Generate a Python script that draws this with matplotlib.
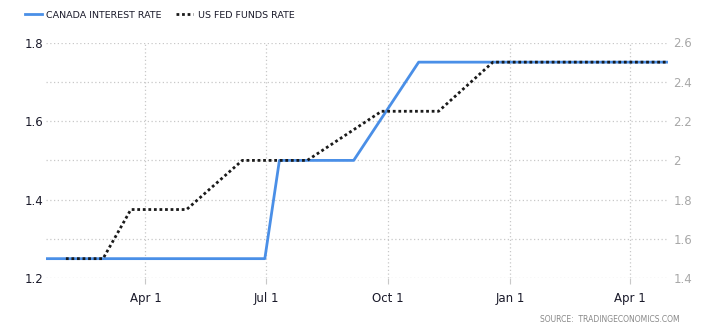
import numpy as np
import pandas as pd
import matplotlib.pyplot as plt

# Bank of Canada overnight rate (left axis)
ca_dates = pd.to_datetime(['2018-01-17', '2018-06-30', '2018-07-11', '2018-09-05',
                           '2018-10-24', '2019-04-30'])
ca_rate = [1.25, 1.25, 1.50, 1.50, 1.75, 1.75]

# US fed funds upper bound (right axis)
us_dates = pd.to_datetime(['2018-01-31', '2018-02-28', '2018-03-21', '2018-05-02',
                           '2018-06-13', '2018-08-01', '2018-09-26', '2018-11-08',
                           '2018-12-19', '2019-04-30'])
us_rate = [1.50, 1.50, 1.75, 1.75, 2.00, 2.00, 2.25, 2.25, 2.50, 2.50]

x_ticks = pd.to_datetime(['2018-04-01', '2018-07-01', '2018-10-01', '2019-01-01', '2019-04-01'])
x_labels = ['Apr 1', 'Jul 1', 'Oct 1', 'Jan 1', 'Apr 1']
left_ticks = [1.2, 1.3, 1.4, 1.5, 1.6, 1.7, 1.8]
left_labels = ['1.2', '', '1.4', '', '1.6', '', '1.8']
right_ticks = [1.4, 1.6, 1.8, 2.0, 2.2, 2.4, 2.6]
right_labels = ['1.4', '1.6', '1.8', '2', '2.2', '2.4', '2.6']

fig = plt.figure(figsize=(7.06, 3.28), dpi=100)
ax = fig.add_axes([46 / 706, 1 - 278.3 / 328, (668 - 46) / 706, (278.3 - 42.5) / 328])
ax2 = ax.twinx()

l1, = ax.plot(ca_dates, ca_rate, color='#4a8fe7', lw=2, label='CANADA INTEREST RATE', zorder=3)
l2, = ax2.plot(us_dates, us_rate, color='#1a1a1a', lw=2, ls=(0, (1, 1)),
               label='US FED FUNDS RATE', zorder=4)

ax.set_xlim(pd.Timestamp('2018-01-16'), pd.Timestamp('2019-04-30'))
ax.set_ylim(1.2, 1.8)
ax2.set_ylim(1.4, 2.6)

ax.set_xticks(x_ticks)
ax.set_xticklabels(x_labels)
ax.set_yticks(left_ticks)
ax.set_yticklabels(left_labels)
ax2.set_yticks(right_ticks)
ax2.set_yticklabels(right_labels)

ax.grid(True, color='#c8c8c8', ls=(0, (1, 2)), lw=0.9)
ax.tick_params(axis='x', length=4, color='#c8c8c8', labelsize=8.5, labelcolor='#1a1a2a', pad=6)
ax.tick_params(axis='y', length=0, labelsize=8.5, labelcolor='#1a1a2a', pad=2)
ax2.tick_params(axis='y', length=0, labelsize=8.5, labelcolor='#a8a8a8', pad=4)
for a in (ax, ax2):
    for s in a.spines.values():
        s.set_visible(False)

fig.legend(handles=[l1, l2], loc='upper left', bbox_to_anchor=(0.023, 1.0 - 2 / 328), ncol=2,
           frameon=False, fontsize=6.8, handlelength=1.8, handletextpad=0.5,
           columnspacing=1.5, labelcolor='#1a1a2a')

fig.text(680 / 706, 1 - 319 / 328, 'SOURCE:  TRADINGECONOMICS.COM', ha='right', va='center',
         fontsize=5.5, color='#888888')

fig.savefig('out.png', dpi=100)
